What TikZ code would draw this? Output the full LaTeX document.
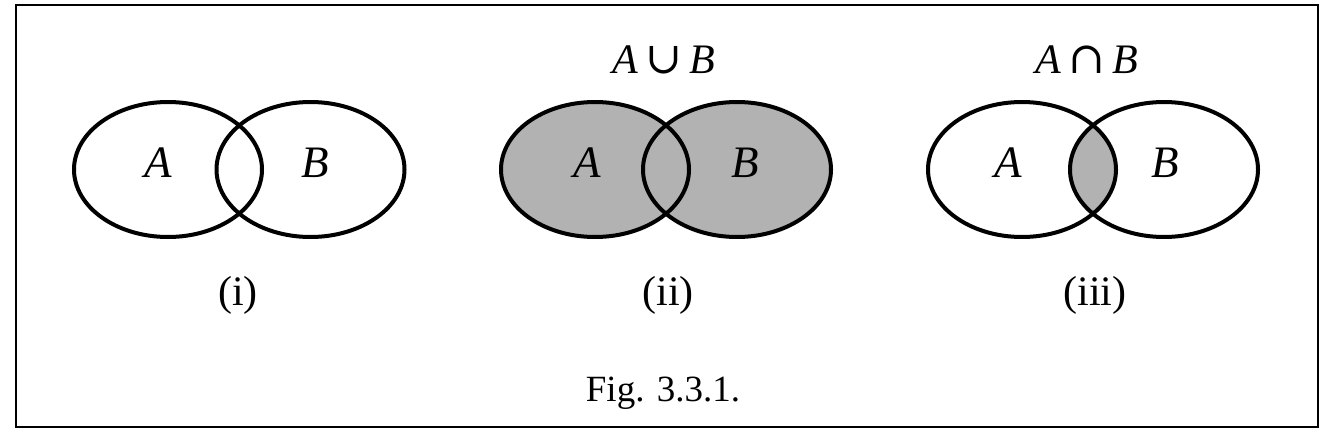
\documentclass[tikz,border=0pt]{standalone}
\usepackage{fontspec}
\setmainfont{Liberation Serif}
\newfontfamily\symfont{DejaVu Serif}
\begin{document}
\begin{tikzpicture}[x=1pt,y=-1pt,
  venn/.style={line width=4pt},
  shade/.style={fill=black!30},
  setlbl/.style={font=\fontsize{45}{48}\selectfont\itshape, inner sep=0pt},
  caplbl/.style={font=\fontsize{42}{46}\selectfont, inner sep=0pt},
  opsym/.style={}]
\useasboundingbox (0,0) rectangle (1339,431);
\draw[line width=1.4pt] (16,5) rectangle (1318,427);
% (i)
\draw[venn] (168,169.5) ellipse [x radius=94, y radius=67.5];
\draw[venn] (310.5,169.5) ellipse [x radius=94, y radius=67.5];
\node[setlbl] (a1) at (158,163) {A};
\node[setlbl] (b1) at (315,163) {B};
\node[caplbl] (l1) at (238,295) {(i)};
% (ii)
\fill[shade] (595,169.5) ellipse [x radius=94, y radius=67.5];
\fill[shade] (737,169.5) ellipse [x radius=94, y radius=67.5];
\draw[venn] (595,169.5) ellipse [x radius=94, y radius=67.5];
\draw[venn] (737,169.5) ellipse [x radius=94, y radius=67.5];
\node[setlbl] (a2) at (587,163) {A};
\node[setlbl] (b2) at (745,163) {B};
\node[caplbl] (t2) at (664,60) {\textit{A}\,{\symfont\fontsize{44}{48}\selectfont ∪}\,\textit{B}};
\node[caplbl] (l2) at (668,295) {(ii)};
% (iii)
\begin{scope}
\clip (1022,169.5) ellipse [x radius=94, y radius=67.5];
\fill[shade] (1164,169.5) ellipse [x radius=94, y radius=67.5];
\end{scope}
\draw[venn] (1022,169.5) ellipse [x radius=94, y radius=67.5];
\draw[venn] (1164,169.5) ellipse [x radius=94, y radius=67.5];
\node[setlbl] (a3) at (1008,163) {A};
\node[setlbl] (b3) at (1165,163) {B};
\node[caplbl] (t3) at (1087,60) {\textit{A}\,{\symfont\fontsize{44}{48}\selectfont ∩}\,\textit{B}};
\node[caplbl] (l3) at (1095,295) {(iii)};
\node[font=\fontsize{37}{40}\selectfont, inner sep=0pt] (fig) at (663,393) {Fig. 3.3.1.};
\end{tikzpicture}
\end{document}
